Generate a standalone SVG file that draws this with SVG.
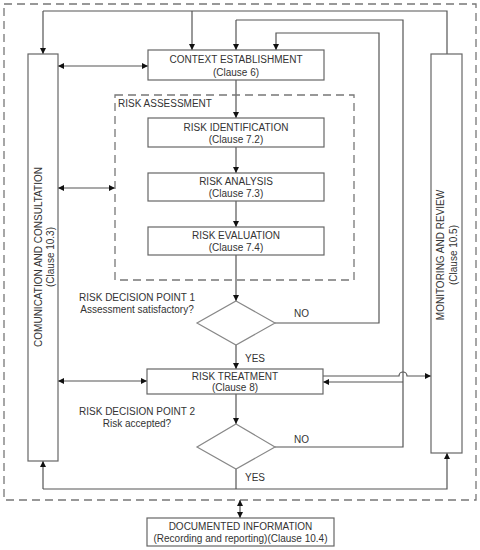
<svg xmlns="http://www.w3.org/2000/svg" width="480" height="550" viewBox="0 0 480 550">
<defs>
<marker id="ah" viewBox="0 0 10 10" refX="10" refY="5" markerWidth="6" markerHeight="6" orient="auto-start-reverse" markerUnits="userSpaceOnUse">
<path d="M0,0 L10,5 L0,10 z" fill="#111"/>
</marker>
<style>
.box{fill:#fff;stroke:#666;stroke-width:1.2}
.dash{fill:none;stroke:#777;stroke-width:1.3;stroke-dasharray:8,5}
.dia{fill:#fff;stroke:#888;stroke-width:1.2}
.ln{fill:none;stroke:#555;stroke-width:1.2}
.arr{marker-end:url(#ah)}
.both{marker-start:url(#ah);marker-end:url(#ah)}
text{font-family:"Liberation Sans",Arial,sans-serif;font-size:10px;fill:#333}
.c{text-anchor:middle}
</style>
</defs>
<rect width="480" height="550" fill="#fff"/>
<rect x="4" y="4" width="472" height="496" class="dash"/>
<g id="connectors">
<path class="ln arr" d="M43,11 H447 V54 M43,11 V54"/>
<path class="ln arr" d="M192,11 V50"/>
<path class="ln arr" d="M236,20 V50"/>
<path class="ln" d="M236,20 H403 V447 H275"/>
<path class="ln arr" d="M403,382 H323"/>
<path class="ln arr" d="M275,323 H379 V33 H276 V50"/>
<path class="ln arr" d="M236,80 V118"/>
<path class="ln arr" d="M236,147 V173"/>
<path class="ln arr" d="M236,201 V227"/>
<path class="ln arr" d="M236,255 V301"/>
<path class="ln arr" d="M236,345 V369"/>
<path class="ln arr" d="M236,394 V424"/>
<path class="ln" d="M236,469 V489"/>
<path class="ln arr" d="M43,489 H447 V453"/>
<path class="ln arr" d="M43,489 V461"/>
<path class="ln both" d="M58,66 H148"/>
<path class="ln both" d="M58,188 H115"/>
<path class="ln both" d="M58,381 H147"/>
<path class="ln arr" d="M323,376 H399 A4,4 0 0 1 407,376 H431"/>
<path class="ln both" d="M240,500 V518"/>
</g>
<g id="communication">
<rect x="28" y="54" width="30" height="407" class="box"/>
<text class="c" transform="translate(42,257) rotate(-90)">COMUNICATION AND CONSULTATION</text>
<text class="c" transform="translate(54,257) rotate(-90)">(Clause 10.3)</text>
</g>
<g id="monitoring">
<rect x="431" y="54" width="31" height="399" class="box"/>
<text class="c" transform="translate(444,255) rotate(-90)">MONITORING AND REVIEW</text>
<text class="c" transform="translate(457,255) rotate(-90)">(Clause 10.5)</text>
</g>
<g id="context">
<rect x="148" y="50" width="176" height="30" class="box"/>
<text x="236" y="63" class="c">CONTEXT ESTABLISHMENT</text>
<text x="236" y="76" class="c">(Clause 6)</text>
</g>
<g id="risk-assessment">
<rect x="115" y="95" width="239" height="185" class="dash"/>
<text x="118" y="107">RISK ASSESSMENT</text>
</g>
<g id="identification">
<rect x="148" y="118" width="176" height="29" class="box"/>
<text x="236" y="131" class="c">RISK IDENTIFICATION</text>
<text x="236" y="143" class="c">(Clause 7.2)</text>
</g>
<g id="analysis">
<rect x="148" y="173" width="176" height="28" class="box"/>
<text x="236" y="185" class="c">RISK ANALYSIS</text>
<text x="236" y="197" class="c">(Clause 7.3)</text>
</g>
<g id="evaluation">
<rect x="148" y="227" width="176" height="28" class="box"/>
<text x="236" y="239" class="c">RISK EVALUATION</text>
<text x="236" y="251" class="c">(Clause 7.4)</text>
</g>
<g id="decision1">
<polygon points="236,301 275,323 236,345 197,323" class="dia"/>
<text x="137" y="301" class="c">RISK DECISION POINT 1</text>
<text x="137" y="313" class="c">Assessment satisfactory?</text>
<text x="294" y="317">NO</text>
<text x="245" y="362">YES</text>
</g>
<g id="treatment">
<rect x="147" y="369" width="176" height="25" class="box"/>
<text x="235" y="380" class="c">RISK TREATMENT</text>
<text x="235" y="391" class="c">(Clause 8)</text>
</g>
<g id="decision2">
<polygon points="236,424 275,447 236,469 197,447" class="dia"/>
<text x="137" y="415" class="c">RISK DECISION POINT 2</text>
<text x="137" y="427" class="c">Risk accepted?</text>
<text x="294" y="443">NO</text>
<text x="245" y="481">YES</text>
</g>
<g id="documented">
<rect x="147" y="518" width="187" height="28" class="box"/>
<text x="240.5" y="530" class="c">DOCUMENTED INFORMATION</text>
<text x="240.5" y="542" class="c">(Recording and reporting)(Clause 10.4)</text>
</g>
</svg>
